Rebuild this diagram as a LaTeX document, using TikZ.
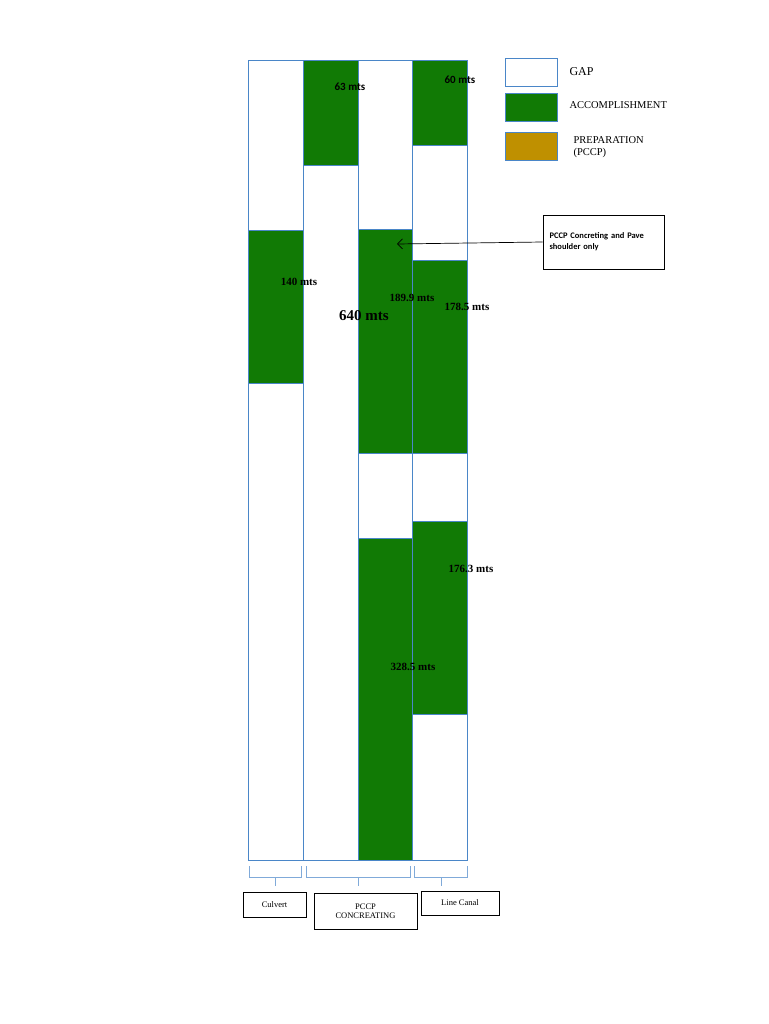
\documentclass[tikz,border=0pt]{standalone}
\usepackage{fontspec}
\usetikzlibrary{arrows.meta}
\setmainfont{Liberation Serif}
\newfontfamily\carl{Carlito}
\definecolor{acc}{HTML}{117A05}
\definecolor{edge}{HTML}{4A86C8}
\definecolor{prep}{HTML}{BF9000}
\begin{document}
\begin{tikzpicture}[x=1pt,y=-1pt,
 gap/.style={draw=edge,fill=white,line width=0.8pt},
 accb/.style={draw=edge,fill=acc,line width=0.8pt},
 lab/.style={font=\bfseries\fontsize{11}{12}\selectfont},
 clab/.style={font=\carl\bfseries\fontsize{11}{12}\selectfont},
 brc/.style={draw=edge!70,line width=0.8pt},
 tbox/.style={draw=black,fill=white,line width=0.8pt,align=center,font=\fontsize{8.5}{9.5}\selectfont,inner sep=3pt}]
\useasboundingbox (0,0) rectangle (768,1024);
% column 1
\draw[gap] (248,60) rectangle (303,230);
\draw[accb] (248,230) rectangle (303,383);
\draw[gap] (248,383) rectangle (303,860);
% column 2
\draw[accb] (303,60) rectangle (358,165);
\draw[gap] (303,165) rectangle (358,860);
% column 3
\draw[gap] (358,60) rectangle (412,229);
\draw[accb] (358,229) rectangle (412,453);
\draw[gap] (358,453) rectangle (412,538);
\draw[accb] (358,538) rectangle (412,860);
% column 4
\draw[accb] (412,60) rectangle (467,145);
\draw[gap] (412,145) rectangle (467,260);
\draw[accb] (412,260) rectangle (467,453);
\draw[gap] (412,453) rectangle (467,521);
\draw[accb] (412,521) rectangle (467,714);
\draw[gap] (412,714) rectangle (467,860);
% labels
\node[clab] (l63) at (350,87) {63 mts};
\node[clab] (l60) at (460,80) {60 mts};
\node[lab] (l140) at (299,282) {140 mts};
\node[font=\bfseries\fontsize{15}{17}\selectfont] (l640) at (364,316) {640 mts};
\node[lab] (l189) at (412,298) {189.9 mts};
\node[lab] (l178) at (467,307) {178.5 mts};
\node[lab] (l176) at (471,569) {176.3 mts};
\node[lab] (l328) at (413,667) {328.5 mts};
% legend
\draw[draw=edge,fill=white,line width=0.8pt] (505,58) rectangle (557,86);
\draw[draw=edge,fill=acc,line width=0.8pt] (505,93) rectangle (557,121);
\draw[draw=edge,fill=prep,line width=0.8pt] (505,132) rectangle (557,160);
\node[anchor=west,font=\fontsize{12}{13}\selectfont] (g1) at (566,72) {GAP};
\node[anchor=west,font=\fontsize{10.5}{12}\selectfont] (g2) at (566,105) {ACCOMPLISHMENT};
\node[anchor=west,align=left,font=\fontsize{10.5}{12}\selectfont] (g3) at (570,147) {PREPARATION\\(PCCP)};
% callout
\node[draw=black,line width=0.8pt,minimum width=121pt,minimum height=54pt,align=left,font=\carl\bfseries\fontsize{8.5}{11}\selectfont,text width=108pt] (call) at (603.5,242) {PCCP Concreting and Pave shoulder only};
\coordinate (tgt) at (397,244);
\draw[-{Straight Barb[length=5pt]},line width=0.7pt] (call.west) -- (tgt);
% braces
\draw[brc] (249,866) -- (249,877) -- (301,877) -- (301,866);
\draw[brc] (275,877) -- (275,886);
\draw[brc] (306,866) -- (306,877) -- (410,877) -- (410,866);
\draw[brc] (358,877) -- (358,886);
\draw[brc] (414,866) -- (414,877) -- (467,877) -- (467,866);
\draw[brc] (441,877) -- (441,886);
\node[tbox,minimum width=63pt,minimum height=25pt] (cul) at (274.5,904.5) {Culvert};
\node[tbox,minimum width=103pt,minimum height=36pt] (pccp) at (365.5,911) {PCCP\\CONCREATING};
\node[tbox,minimum width=78pt,minimum height=24pt] (lc) at (460,903) {Line Canal};
\end{tikzpicture}
\end{document}
